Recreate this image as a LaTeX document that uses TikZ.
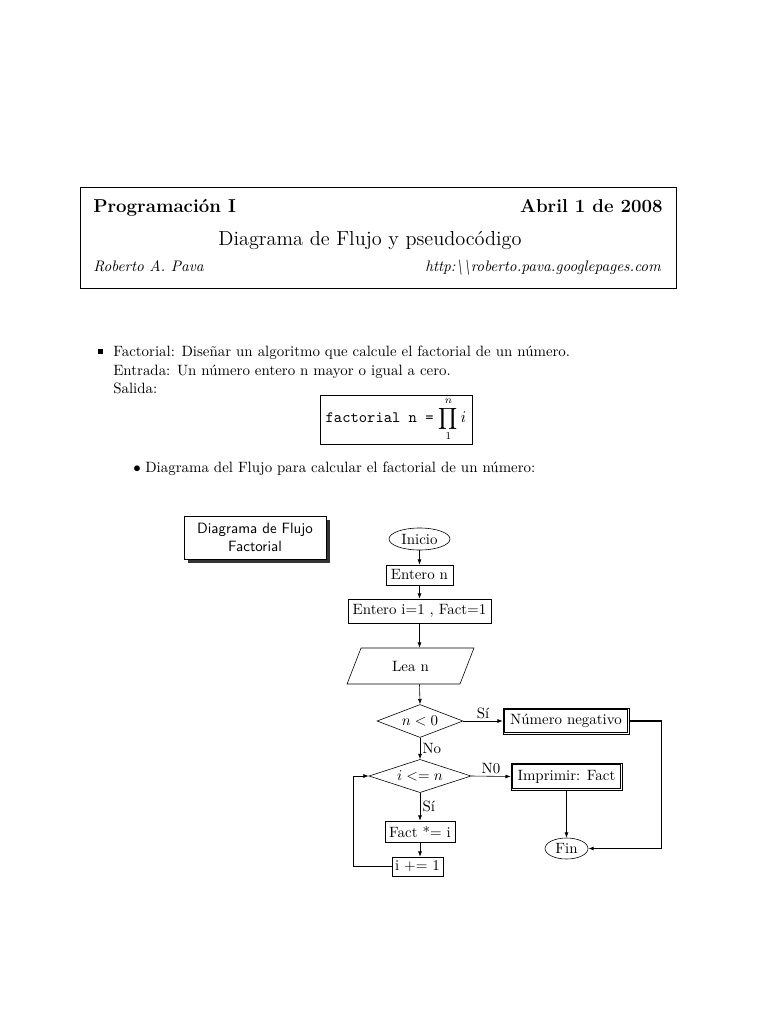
\documentclass[tikz,border=0pt]{standalone}
\usepackage{fontspec}
\usetikzlibrary{shapes.geometric,arrows.meta,shadows}
\newlength\pxu
\setlength\pxu{0.67pt}
\tikzset{
  txt/.style={inner sep=0pt, anchor=base west},
  proc/.style={draw, rectangle, inner sep=0pt},
  term/.style={draw, ellipse, inner sep=0pt},
  dec/.style={draw, diamond, inner sep=0pt, aspect=2},
  arr/.style={-{Latex[length=3.5pt,width=2.6pt]}},
  lbl/.style={inner sep=1.5pt}
}
\begin{document}
\begin{tikzpicture}[x=0.67pt,y=-0.67pt]
\useasboundingbox (0,0) rectangle (768,1024);
% header
\draw (80,187) rectangle (676,288);
\node[txt, font=\fontsize{12.5}{15}\selectfont\bfseries] (prog) at (93,213) {Programación I};
\node[txt, anchor=base east, font=\fontsize{12.5}{15}\selectfont\bfseries] (fecha) at (663,213) {Abril 1 de 2008};
\node[txt, anchor=base, font=\fontsize{13.6}{16}\selectfont] (titulo) at (370,246) {Diagrama de Flujo y pseudocódigo};
\node[txt, font=\fontsize{10.2}{12}\selectfont\itshape] (autor) at (93,272) {Roberto A. Pava};
\node[txt, anchor=base east, font=\fontsize{10.2}{12}\selectfont\itshape] (url) at (661,272) {http:\textbackslash\textbackslash roberto.pava.googlepages.com};
% item text
\fill (98,349.5) rectangle (102.5,354);
\node[txt] (l1) at (113,357) {Factorial: Diseñar un algoritmo que calcule el factorial de un número.};
\node[txt] (l2) at (113,375) {Entrada: Un número entero n mayor o igual a cero.};
\node[txt] (l3) at (113,393) {Salida:};
\draw (320,395) rectangle (472,444);
\node[inner sep=0pt, font=\fontsize{10.6}{12}\selectfont] (formula) at (396,419.5) {\texttt{factorial n =} $\displaystyle\prod_{1}^{n} i$};
\node[txt] (b2) at (133,472) {$\bullet$};
\node[txt] (l4) at (145,472) {Diagrama del Flujo para calcular el factorial de un número:};
% title box
\node[draw, fill=white, align=center, font=\sffamily, inner sep=0pt,
      minimum width=142*\pxu, minimum height=43*\pxu,
      general shadow={fill=black!80, shadow xshift=3.5*\pxu, shadow yshift=-3.8*\pxu}] (tbox) at (255,537.5) {Diagrama de Flujo\\Factorial};
% flowchart
\node[term, minimum width=61*\pxu, minimum height=22*\pxu] (inicio) at (419.5,539) {Inicio};
\node[proc, minimum width=67*\pxu, minimum height=20*\pxu] (en) at (419.5,575) {Entero n};
\node[proc, minimum width=143*\pxu, minimum height=24*\pxu] (ei) at (419.5,611) {Entero i=1 , Fact=1};
\node[draw, trapezium, trapezium left angle=63.4, trapezium right angle=116.6, trapezium stretches=true,
      inner sep=0pt, minimum width=127*\pxu, minimum height=36*\pxu] (lea) at (410.5,666) {Lea n};
\node[dec, minimum width=86*\pxu, minimum height=33*\pxu] (d1) at (420,721) {$n<0$};
\node[proc, minimum width=126*\pxu, minimum height=26*\pxu] (neg) at (566,721) {Número negativo};
\draw ([xshift=2*\pxu,yshift=-2*\pxu]neg.north west) rectangle ([xshift=-2*\pxu,yshift=2*\pxu]neg.south east);
\node[dec, minimum width=102*\pxu, minimum height=32*\pxu] (d2) at (420,776) {$i<=n$};
\node[proc, minimum width=111*\pxu, minimum height=27*\pxu] (imp) at (566.5,776.5) {Imprimir: Fact};
\draw ([xshift=2*\pxu,yshift=-2*\pxu]imp.north west) rectangle ([xshift=-2*\pxu,yshift=2*\pxu]imp.south east);
\node[proc, minimum width=70*\pxu, minimum height=21*\pxu] (fact) at (420,831.5) {Fact *= i};
\node[proc, minimum width=51*\pxu, minimum height=19*\pxu] (inc) at (417.5,866.5) {i += 1};
\node[term, minimum width=43*\pxu, minimum height=21*\pxu] (fin) at (566.5,848.5) {Fin};
% connectors
\draw[arr] (inicio) -- (en);
\draw[arr] (en) -- (ei);
\draw[arr] (ei.south) -- (ei.south |- lea.north);
\draw[arr] (ei.south |- lea.south) -- (d1.north);
\draw[arr] (d1.east) -- node[lbl, above] {Sí} (neg.west);
\draw[arr] (d1.south) -- node[lbl, right] {No} (d2.north);
\draw[arr] (d2.east) -- node[lbl, above] {N0} (imp.west);
\draw[arr] (d2.south) -- node[lbl, right] {Sí} (fact.north);
\draw[arr] (fact.south) -- (fact.south |- inc.north);
\draw[arr] (inc.west) -- ++(-38,0) |- (d2.west);
\draw[arr] (imp.south) -- (fin.north);
\draw[arr, line width=0.8pt] (neg.east) -- ++(32,0) |- (fin.east);
\end{tikzpicture}
\end{document}
